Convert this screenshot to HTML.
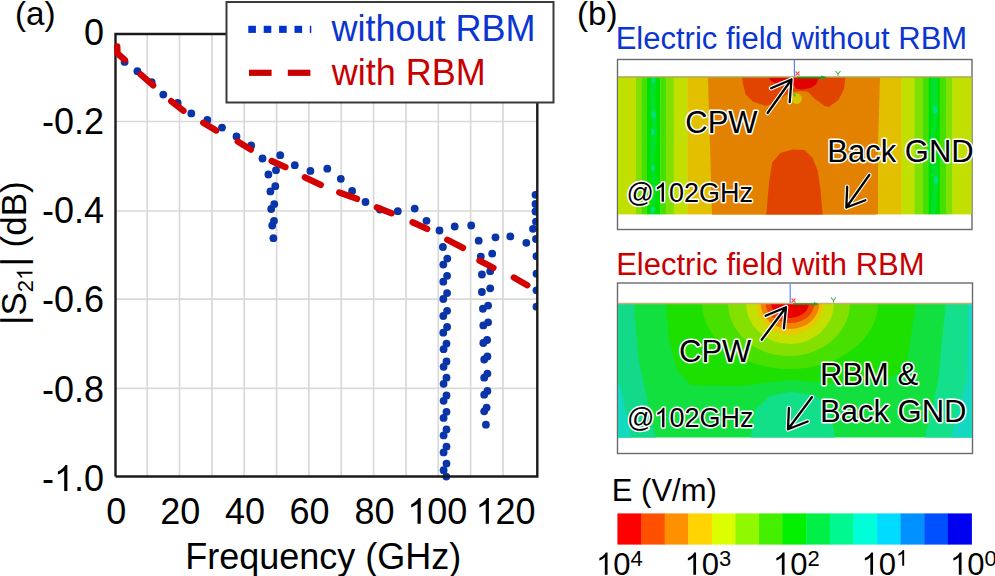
<!DOCTYPE html>
<html><head><meta charset="utf-8"><style>
html,body{margin:0;padding:0;background:#fff;}
svg{display:block;font-family:"Liberation Sans",sans-serif;}
</style></head><body>
<svg width="995" height="576" viewBox="0 0 995 576">
<defs><clipPath id="pc"><rect x="116.5" y="35" width="420.5" height="447"/></clipPath></defs>
<rect width="995" height="576" fill="#fff"/>
<g stroke="#d9d9d9" stroke-width="1.7"><line x1="147.2" y1="34" x2="147.2" y2="476" /><line x1="179.5" y1="34" x2="179.5" y2="476" /><line x1="211.9" y1="34" x2="211.9" y2="476" /><line x1="244.2" y1="34" x2="244.2" y2="476" /><line x1="276.6" y1="34" x2="276.6" y2="476" /><line x1="308.9" y1="34" x2="308.9" y2="476" /><line x1="341.3" y1="34" x2="341.3" y2="476" /><line x1="373.6" y1="34" x2="373.6" y2="476" /><line x1="406.0" y1="34" x2="406.0" y2="476" /><line x1="438.3" y1="34" x2="438.3" y2="476" /><line x1="470.6" y1="34" x2="470.6" y2="476" /><line x1="503.0" y1="34" x2="503.0" y2="476" /><line x1="116" y1="121.5" x2="537" y2="121.5" /><line x1="116" y1="211.0" x2="537" y2="211.0" /><line x1="116" y1="299.2" x2="537" y2="299.2" /><line x1="116" y1="388.4" x2="537" y2="388.4" /></g>
<g fill="#0a35a8" clip-path="url(#pc)"><circle cx="124.6" cy="61.9" r="3.9"/><circle cx="137.4" cy="71.2" r="3.9"/><circle cx="151.7" cy="82.1" r="3.9"/><circle cx="163.3" cy="94.6" r="3.9"/><circle cx="177.7" cy="103" r="3.9"/><circle cx="191.3" cy="113.4" r="3.9"/><circle cx="207.3" cy="120" r="3.9"/><circle cx="222" cy="127.6" r="3.9"/><circle cx="236.5" cy="136.5" r="3.9"/><circle cx="251.2" cy="145.5" r="3.9"/><circle cx="262.5" cy="158.5" r="3.9"/><circle cx="280.2" cy="155.2" r="3.9"/><circle cx="294.8" cy="165.2" r="3.9"/><circle cx="310.4" cy="170.9" r="3.9"/><circle cx="276" cy="170.2" r="3.9"/><circle cx="268.4" cy="174.5" r="3.9"/><circle cx="275.3" cy="186.2" r="3.9"/><circle cx="270.4" cy="191.4" r="3.9"/><circle cx="274.3" cy="204.1" r="3.9"/><circle cx="271.2" cy="209" r="3.9"/><circle cx="274" cy="220.8" r="3.9"/><circle cx="272.2" cy="225.5" r="3.9"/><circle cx="273.4" cy="238.2" r="3.9"/><circle cx="327.3" cy="168.7" r="3.9"/><circle cx="340.8" cy="178.8" r="3.9"/><circle cx="352.1" cy="190.9" r="3.9"/><circle cx="365.5" cy="202" r="3.9"/><circle cx="379.9" cy="209.5" r="3.9"/><circle cx="397.8" cy="211.2" r="3.9"/><circle cx="414.7" cy="208.6" r="3.9"/><circle cx="426.5" cy="220.8" r="3.9"/><circle cx="439.5" cy="230.5" r="3.9"/><circle cx="454.7" cy="226.5" r="3.9"/><circle cx="471.2" cy="225.5" r="3.9"/><circle cx="478.7" cy="240.7" r="3.9"/><circle cx="495.5" cy="237.3" r="3.9"/><circle cx="510.3" cy="236.4" r="3.9"/><circle cx="526.3" cy="242.8" r="3.9"/><circle cx="442.9" cy="247" r="3.9"/><circle cx="447.3" cy="258.6" r="3.9"/><circle cx="443.3" cy="264.6" r="3.9"/><circle cx="447.1" cy="275.8" r="3.9"/><circle cx="443.3" cy="281.7" r="3.9"/><circle cx="447.1" cy="293.1" r="3.9"/><circle cx="443.3" cy="299" r="3.9"/><circle cx="447.1" cy="310.8" r="3.9"/><circle cx="443.3" cy="316" r="3.9"/><circle cx="447.1" cy="327" r="3.9"/><circle cx="443.3" cy="332.7" r="3.9"/><circle cx="446.5" cy="343.6" r="3.9"/><circle cx="443.6" cy="349.2" r="3.9"/><circle cx="446.5" cy="361.4" r="3.9"/><circle cx="443.6" cy="366.8" r="3.9"/><circle cx="446.5" cy="377.7" r="3.9"/><circle cx="443.6" cy="383.8" r="3.9"/><circle cx="446.5" cy="395.5" r="3.9"/><circle cx="443.6" cy="400.8" r="3.9"/><circle cx="446.5" cy="411.8" r="3.9"/><circle cx="443.6" cy="417.9" r="3.9"/><circle cx="446.5" cy="429.5" r="3.9"/><circle cx="443.6" cy="435.4" r="3.9"/><circle cx="446.5" cy="446.6" r="3.9"/><circle cx="443.6" cy="452.4" r="3.9"/><circle cx="446.5" cy="463.6" r="3.9"/><circle cx="443.6" cy="470.2" r="3.9"/><circle cx="446.3" cy="476.6" r="3.9"/><circle cx="480.8" cy="256.6" r="3.9"/><circle cx="492.2" cy="253.7" r="3.9"/><circle cx="490.2" cy="271.2" r="3.9"/><circle cx="481.9" cy="274.5" r="3.9"/><circle cx="490.2" cy="288.3" r="3.9"/><circle cx="481.9" cy="292" r="3.9"/><circle cx="488.1" cy="305.6" r="3.9"/><circle cx="482.9" cy="308.75" r="3.9"/><circle cx="488.1" cy="322.3" r="3.9"/><circle cx="483.3" cy="325.4" r="3.9"/><circle cx="487.1" cy="340" r="3.9"/><circle cx="483.3" cy="343" r="3.9"/><circle cx="487.4" cy="356.5" r="3.9"/><circle cx="484.2" cy="359.5" r="3.9"/><circle cx="487.4" cy="373.6" r="3.9"/><circle cx="484.2" cy="377.7" r="3.9"/><circle cx="487.4" cy="391" r="3.9"/><circle cx="484.2" cy="394.7" r="3.9"/><circle cx="486.6" cy="407.6" r="3.9"/><circle cx="484.2" cy="411.3" r="3.9"/><circle cx="485.9" cy="424.7" r="3.9"/><circle cx="535.5" cy="194.8" r="3.9"/><circle cx="535.5" cy="204" r="3.9"/><circle cx="535.5" cy="211.5" r="3.9"/><circle cx="533" cy="228.8" r="3.9"/><circle cx="536" cy="221.7" r="3.9"/><circle cx="536" cy="239" r="3.9"/><circle cx="536.5" cy="256.2" r="3.9"/><circle cx="536.5" cy="273.7" r="3.9"/><circle cx="536.5" cy="290.3" r="3.9"/><circle cx="536.5" cy="306.7" r="3.9"/></g>
<path clip-path="url(#pc)" fill="none" stroke="#d20000" stroke-width="6.4" stroke-linecap="round" stroke-linejoin="round" d="M140.65,74.44 L153.15,85.36 M171.21,101.19 L183.49,110.71 M203.24,122.79 L216.16,130.51 M237.75,141.58 L250.85,149.62 M271.69,160.99 L285.41,167.11 M304.9,177.26 L320.7,184.94 M339.26,192.46 L356.94,198.84 M376.97,207.43 L391.53,213.27 M412.59,222.28 L427.11,228.92 M447.31,239.74 L462.99,247.86 M479.51,260.54 L493.39,267.76 M513.83,277.5 L527.27,285.2"/>
<path d="M115.5,476.5 V34 H227 M537.3,102 V476.5 H115.5" fill="none" stroke="#1a1a1a" stroke-width="2.4"/>
<path fill="none" stroke="#d20000" stroke-width="6.4" stroke-linecap="round" stroke-linejoin="round" d="M117.2,46.4 L117.5,53.5 L124.8,59.8"/>
<rect x="226.5" y="2" width="327" height="100.5" fill="#fff" stroke="#3a3a3a" stroke-width="2"/>
<g fill="#0033cc"><rect x="248.3" y="25.8" width="7.6" height="7.1"/><rect x="263.7" y="25.8" width="7.6" height="7.1"/><rect x="279.1" y="25.8" width="7.6" height="7.1"/><rect x="294.5" y="25.8" width="7.6" height="7.1"/><rect x="309.8" y="25.8" width="1.5" height="7.1"/></g>
<g fill="#c80000"><rect x="249" y="69.7" width="22.6" height="6.2"/><rect x="287.8" y="69.7" width="22.6" height="6.2"/></g>
<text x="331.5" y="40.6" font-size="36" fill="#0a35d0">without RBM</text>
<text x="331.8" y="84.6" font-size="36" fill="#c80000">with RBM</text>
<text x="14.9" y="24.9" font-size="33.2">(a)</text>
<text x="83.98" y="44.6" font-size="36" fill="#000">0</text>
<text x="41.97" y="133.9" font-size="36" fill="#000">-0.2</text>
<text x="41.97" y="223.1" font-size="36" fill="#000">-0.4</text>
<text x="41.97" y="312.4" font-size="36" fill="#000">-0.6</text>
<text x="41.97" y="401.6" font-size="36" fill="#000">-0.8</text>
<text x="41.97" y="490.9" font-size="36" fill="#000">- .0</text><path transform="translate(53.96,490.90) scale(0.01758,-0.01758)" d="M763 0H583V1147Q518 1085 412.5 1023T223 930V1104Q374 1175 487 1276T647 1472H763V0Z" fill="#000"/>
<text x="106.29" y="523.8" font-size="36" fill="#000">0</text>
<text x="160.18" y="523.8" font-size="36" fill="#000">20</text>
<text x="224.98" y="523.8" font-size="36" fill="#000">40</text>
<text x="289.48" y="523.8" font-size="36" fill="#000">60</text>
<text x="354.48" y="523.8" font-size="36" fill="#000">80</text>
<text x="407.28" y="523.8" font-size="36" fill="#000"> 00</text><path transform="translate(407.28,523.80) scale(0.01758,-0.01758)" d="M763 0H583V1147Q518 1085 412.5 1023T223 930V1104Q374 1175 487 1276T647 1472H763V0Z" fill="#000"/>
<text x="475.48" y="523.8" font-size="36" fill="#000"> 20</text><path transform="translate(475.48,523.80) scale(0.01758,-0.01758)" d="M763 0H583V1147Q518 1085 412.5 1023T223 930V1104Q374 1175 487 1276T647 1472H763V0Z" fill="#000"/>
<text x="323.2" y="568.6" font-size="36" text-anchor="middle">Frequency (GHz)</text>
<g transform="translate(25.8,253) rotate(-90)"><text x="-71.70" y="0" font-size="35" fill="#000">|S</text><text x="-39.25" y="6.7" font-size="22" fill="#000">2 </text><path transform="translate(-27.02,6.70) scale(0.01074,-0.01074)" d="M763 0H583V1147Q518 1085 412.5 1023T223 930V1104Q374 1175 487 1276T647 1472H763V0Z" fill="#000"/><text x="-13.29" y="0" font-size="35" fill="#000">| (dB)</text></g>
<text x="577" y="24.9" font-size="33.2">(b)</text>
<text x="615.7" y="48.8" font-size="31" fill="#0a35d0">Electric field without RBM</text>
<text x="616.2" y="274.8" font-size="31" fill="#c80000">Electric field with RBM</text>
<rect x="617.5" y="59.5" width="354.5" height="170" fill="#fff" stroke="#6a6a6a" stroke-width="1.4"/>
<g><rect x="618" y="77" width="18.3" height="137.4" fill="#c2e000"/><rect x="636" y="77" width="5.9" height="137.4" fill="#80e000"/><rect x="641.6" y="77" width="5.7" height="137.4" fill="#44e000"/><rect x="647" y="77" width="13.5" height="137.4" fill="#00e000"/><rect x="660.2" y="77" width="6.1" height="137.4" fill="#44e000"/><rect x="666" y="77" width="8.1" height="137.4" fill="#80e000"/><rect x="673.8" y="77" width="13.8" height="137.4" fill="#c2e000"/><rect x="687.3" y="77" width="25.0" height="137.4" fill="#e2c000"/><rect x="712" y="77" width="166.3" height="137.4" fill="#e28200"/><rect x="878" y="77" width="23.9" height="137.4" fill="#e2c000"/><rect x="901.6" y="77" width="13.0" height="137.4" fill="#c2e000"/><rect x="914.3" y="77" width="8.4" height="137.4" fill="#80e000"/><rect x="922.4" y="77" width="6.1" height="137.4" fill="#44e000"/><rect x="928.2" y="77" width="11.9" height="137.4" fill="#00e000"/><rect x="939.8" y="77" width="6.5" height="137.4" fill="#44e000"/><rect x="946" y="77" width="6.8" height="137.4" fill="#80e000"/><rect x="952.5" y="77" width="19.1" height="137.4" fill="#c2e000"/></g>
<path d="M708,77 L880,77 L876,214.4 L712,214.4 Z" fill="#e28200"/>
<path d="M651,77 L656,77 L655,100 L657,130 L654,160 L656,190 L654,214 L650,214 L652,185 L650,150 L652,120 L650,95 Z" fill="#00e030"/>
<path d="M931,77 L937,77 L938,110 L935,140 L938,175 L936,214 L931,214 L933,180 L930,150 L933,120 L931,100 Z" fill="#00e030"/>
<g fill="#00e080"><ellipse cx="653.5" cy="80" rx="2" ry="3"/><ellipse cx="653.5" cy="115" rx="2.2" ry="4"/><ellipse cx="653" cy="132" rx="2" ry="3"/><ellipse cx="653" cy="168" rx="2" ry="3"/><ellipse cx="653" cy="210" rx="2" ry="3"/><ellipse cx="935" cy="110" rx="2.2" ry="4"/><ellipse cx="936" cy="180" rx="2.2" ry="4"/></g>
<path d="M742.1,77 L742.8,83.1 L745.6,94.4 L752.7,101.4 L765.3,105.7 L772.4,104.2 L782.2,97.2 L790,92 L800,91 L807.5,91.6 L814.6,98.6 L824.4,105.7 L828.6,107.1 L838.5,100 L844.1,88.8 L845.5,77 Z" fill="#e04400"/>
<path d="M768.8,77 L819.5,77 L816,84.5 L810.4,88 L801.9,89.5 L796.3,88.8 L792.1,83.1 L785,82 L775.2,83.1 L771,81 Z" fill="#e20000"/>
<ellipse cx="796.6" cy="98.6" rx="5.2" ry="5.4" fill="#d8c400"/><circle cx="794.6" cy="95.2" r="1.3" fill="#40d020"/>
<path d="M766.3,214.4 L769.3,180.3 L772.4,162.2 L780.4,153.1 L792.5,149.5 L804.5,150.1 L812.6,158.1 L817.6,170.2 L820.6,190.3 L822.6,214.4 Z" fill="#e04400"/>
<line x1="618" y1="77" x2="971" y2="77" stroke="#a8a850" stroke-width="1.5"/>
<line x1="794.4" y1="60" x2="794.4" y2="76.5" stroke="#6080ff" stroke-width="1.2"/>
<path d="M795.5,71.5 L799.5,75.5 M799.5,71.5 L795.5,75.5" stroke="#ff5050" stroke-width="1.1" fill="none"/>
<path d="M835.5,71 L838,74 L840.5,71 M838,74 V76" stroke="#40b040" stroke-width="1.1" fill="none"/>
<path d="M797,77.6 H822" stroke="#2a9020" stroke-width="1.6" fill="none"/><path d="M821,75.5 L827,77.6 L821,79.7 Z" fill="#20a020"/>
<rect x="617.5" y="283" width="355" height="170.5" fill="#fff" stroke="#6a6a6a" stroke-width="1.4"/>
<svg x="618" y="303.5" width="354" height="134" viewBox="618 303.5 354 134" overflow="hidden">
<rect x="618" y="303" width="354" height="135" fill="#12e03e"/>
<path d="M618,303 L633.8,303 L638.5,360 L647.4,400 L656,438 L618,438 Z" fill="#12da88"/>
<path d="M618,384 L620,384 L625,410 L631.5,438 L618,438 Z" fill="#14d8c0"/>
<path d="M946,303 L972,303 L972,438 L924.8,438 L938.4,380 L942,340 Z" fill="#14e08c"/>
<path d="M968,303 L972,303 L972,438 L950.8,438 L966.6,380 L968,340 Z" fill="#14d8c0"/>
<path d="M750.6,438 L755,410 L770,396 L790,392 L815,395 L830,410 L835,438 Z" fill="#12e088"/>
<path d="M666,303 L669,340 L677,370 L691,385 L740,386 L790,380 L840,384 L880,380 L905,372 L909,350 L916,303 Z" fill="#1ee000"/>
<ellipse cx="790" cy="303" rx="88" ry="66" fill="#48e000"/>
<ellipse cx="789" cy="303" rx="61" ry="53" fill="#84e000"/>
<ellipse cx="790" cy="303" rx="44" ry="41" fill="#c4e000"/>
<ellipse cx="790" cy="303" rx="34" ry="32" fill="#e8c800"/>
<ellipse cx="790" cy="303" rx="29.5" ry="26" fill="#f08400"/>
<ellipse cx="790" cy="303" rx="24.5" ry="20" fill="#f04400"/>
<ellipse cx="790" cy="303" rx="19" ry="15" fill="#e80000"/>
</svg>
<line x1="618" y1="303.5" x2="972" y2="303.5" stroke="#c8b070" stroke-width="1.5"/>
<line x1="790.2" y1="284" x2="790.2" y2="303" stroke="#6080ff" stroke-width="1.2"/>
<path d="M791.5,298.5 L795.5,302.5 M795.5,298.5 L791.5,302.5" stroke="#ff5050" stroke-width="1.1" fill="none"/>
<path d="M831,297.5 L833.5,300.5 L836,297.5 M833.5,300.5 V302.5" stroke="#40b040" stroke-width="1.1" fill="none"/>
<path d="M793,304 H815" stroke="#2a9020" stroke-width="1.4" fill="none"/><path d="M814,302.2 L819,304 L814,305.8 Z" fill="#20a020"/>
<text x="685.3" y="133.2" font-size="31" fill="#fff" stroke="#fff" stroke-width="3.0" stroke-linejoin="round">CPW</text><text x="685.3" y="133.2" font-size="31" fill="#000">CPW</text>
<text x="626.50" y="201.8" font-size="27" fill="#fff" stroke="#fff" stroke-width="3.0" stroke-linejoin="round">@ 02GHz</text><path transform="translate(653.90,201.80) scale(0.01318,-0.01318)" d="M763 0H583V1147Q518 1085 412.5 1023T223 930V1104Q374 1175 487 1276T647 1472H763V0Z" fill="#fff" stroke="#fff" stroke-width="3.0" stroke-linejoin="round" vector-effect="non-scaling-stroke"/><text x="626.50" y="201.8" font-size="27" fill="#000">@ 02GHz</text><path transform="translate(653.90,201.80) scale(0.01318,-0.01318)" d="M763 0H583V1147Q518 1085 412.5 1023T223 930V1104Q374 1175 487 1276T647 1472H763V0Z" fill="#000"/>
<text x="827.3" y="161.8" font-size="31" fill="#fff" stroke="#fff" stroke-width="3.0" stroke-linejoin="round">Back GND</text><text x="827.3" y="161.8" font-size="31" fill="#000">Back GND</text>
<text x="679" y="362.1" font-size="31" fill="#fff" stroke="#fff" stroke-width="3.0" stroke-linejoin="round">CPW</text><text x="679" y="362.1" font-size="31" fill="#000">CPW</text>
<text x="627.00" y="427.2" font-size="27" fill="#fff" stroke="#fff" stroke-width="3.0" stroke-linejoin="round">@ 02GHz</text><path transform="translate(654.40,427.20) scale(0.01318,-0.01318)" d="M763 0H583V1147Q518 1085 412.5 1023T223 930V1104Q374 1175 487 1276T647 1472H763V0Z" fill="#fff" stroke="#fff" stroke-width="3.0" stroke-linejoin="round" vector-effect="non-scaling-stroke"/><text x="627.00" y="427.2" font-size="27" fill="#000">@ 02GHz</text><path transform="translate(654.40,427.20) scale(0.01318,-0.01318)" d="M763 0H583V1147Q518 1085 412.5 1023T223 930V1104Q374 1175 487 1276T647 1472H763V0Z" fill="#000"/>
<text x="820" y="384.6" font-size="31" fill="#fff" stroke="#fff" stroke-width="3.0" stroke-linejoin="round">RBM &amp;</text><text x="820" y="384.6" font-size="31" fill="#000">RBM &amp;</text>
<text x="820" y="421.9" font-size="31" fill="#fff" stroke="#fff" stroke-width="3.0" stroke-linejoin="round">Back GND</text><text x="820" y="421.9" font-size="31" fill="#000">Back GND</text>
<path d="M767.6,113 L791.5,79.5 M771.1,88.2 L791.5,79.5 L789.7,102.1" fill="none" stroke="#fff" stroke-width="4.6" stroke-linecap="round" stroke-linejoin="round"/><path d="M767.6,113 L791.5,79.5 M771.1,88.2 L791.5,79.5 L789.7,102.1" fill="none" stroke="#000" stroke-width="2.3" stroke-linecap="round" stroke-linejoin="round"/>
<path d="M869.3,175 L846.3,207.5 M847.2,186.7 L846.3,207.5 L865.4,200.2" fill="none" stroke="#fff" stroke-width="4.6" stroke-linecap="round" stroke-linejoin="round"/><path d="M869.3,175 L846.3,207.5 M847.2,186.7 L846.3,207.5 L865.4,200.2" fill="none" stroke="#000" stroke-width="2.3" stroke-linecap="round" stroke-linejoin="round"/>
<path d="M761.7,339.7 L786,307.2 M765.6,315.8 L786,307.2 L783.9,328.4" fill="none" stroke="#fff" stroke-width="4.6" stroke-linecap="round" stroke-linejoin="round"/><path d="M761.7,339.7 L786,307.2 M765.6,315.8 L786,307.2 L783.9,328.4" fill="none" stroke="#000" stroke-width="2.3" stroke-linecap="round" stroke-linejoin="round"/>
<path d="M811.9,397.2 L788,429.3 M788.9,408 L788,429.3 L807.6,421.5" fill="none" stroke="#fff" stroke-width="4.6" stroke-linecap="round" stroke-linejoin="round"/><path d="M811.9,397.2 L788,429.3 M788.9,408 L788,429.3 L807.6,421.5" fill="none" stroke="#000" stroke-width="2.3" stroke-linecap="round" stroke-linejoin="round"/>
<g><rect x="617.40" y="513.4" width="24.01" height="31.2" fill="#ff0000"/><rect x="641.01" y="513.4" width="24.01" height="31.2" fill="#ff5000"/><rect x="664.61" y="513.4" width="24.01" height="31.2" fill="#ff9000"/><rect x="688.22" y="513.4" width="24.01" height="31.2" fill="#ffd400"/><rect x="711.83" y="513.4" width="24.01" height="31.2" fill="#dcff00"/><rect x="735.43" y="513.4" width="24.01" height="31.2" fill="#90f800"/><rect x="759.04" y="513.4" width="24.01" height="31.2" fill="#44f000"/><rect x="782.65" y="513.4" width="24.01" height="31.2" fill="#00f000"/><rect x="806.25" y="513.4" width="24.01" height="31.2" fill="#00f048"/><rect x="829.86" y="513.4" width="24.01" height="31.2" fill="#00f890"/><rect x="853.47" y="513.4" width="24.01" height="31.2" fill="#00ffd8"/><rect x="877.07" y="513.4" width="24.01" height="31.2" fill="#00dcff"/><rect x="900.68" y="513.4" width="24.01" height="31.2" fill="#0090ff"/><rect x="924.29" y="513.4" width="24.01" height="31.2" fill="#0050ff"/><rect x="947.89" y="513.4" width="24.01" height="31.2" fill="#0000f0"/></g>
<text x="611.8" y="500.9" font-size="31">E (V/m)</text>
<text x="596.00" y="574.7" font-size="31" fill="#000"> 0</text><path transform="translate(596.00,574.70) scale(0.01514,-0.01514)" d="M763 0H583V1147Q518 1085 412.5 1023T223 930V1104Q374 1175 487 1276T647 1472H763V0Z" fill="#000"/><text x="630.47" y="565.8000000000001" font-size="22" fill="#000">4</text>
<text x="684.50" y="574.7" font-size="31" fill="#000"> 0</text><path transform="translate(684.50,574.70) scale(0.01514,-0.01514)" d="M763 0H583V1147Q518 1085 412.5 1023T223 930V1104Q374 1175 487 1276T647 1472H763V0Z" fill="#000"/><text x="718.97" y="565.8000000000001" font-size="22" fill="#000">3</text>
<text x="773.00" y="574.7" font-size="31" fill="#000"> 0</text><path transform="translate(773.00,574.70) scale(0.01514,-0.01514)" d="M763 0H583V1147Q518 1085 412.5 1023T223 930V1104Q374 1175 487 1276T647 1472H763V0Z" fill="#000"/><text x="807.47" y="565.8000000000001" font-size="22" fill="#000">2</text>
<text x="861.50" y="574.7" font-size="31" fill="#000"> 0</text><path transform="translate(861.50,574.70) scale(0.01514,-0.01514)" d="M763 0H583V1147Q518 1085 412.5 1023T223 930V1104Q374 1175 487 1276T647 1472H763V0Z" fill="#000"/><text x="895.97" y="565.8000000000001" font-size="22" fill="#000"> </text><path transform="translate(895.97,565.80) scale(0.01074,-0.01074)" d="M763 0H583V1147Q518 1085 412.5 1023T223 930V1104Q374 1175 487 1276T647 1472H763V0Z" fill="#000"/>
<text x="950.00" y="574.7" font-size="31" fill="#000"> 0</text><path transform="translate(950.00,574.70) scale(0.01514,-0.01514)" d="M763 0H583V1147Q518 1085 412.5 1023T223 930V1104Q374 1175 487 1276T647 1472H763V0Z" fill="#000"/><text x="984.47" y="565.8000000000001" font-size="22" fill="#000">0</text>
</svg>
</body></html>
